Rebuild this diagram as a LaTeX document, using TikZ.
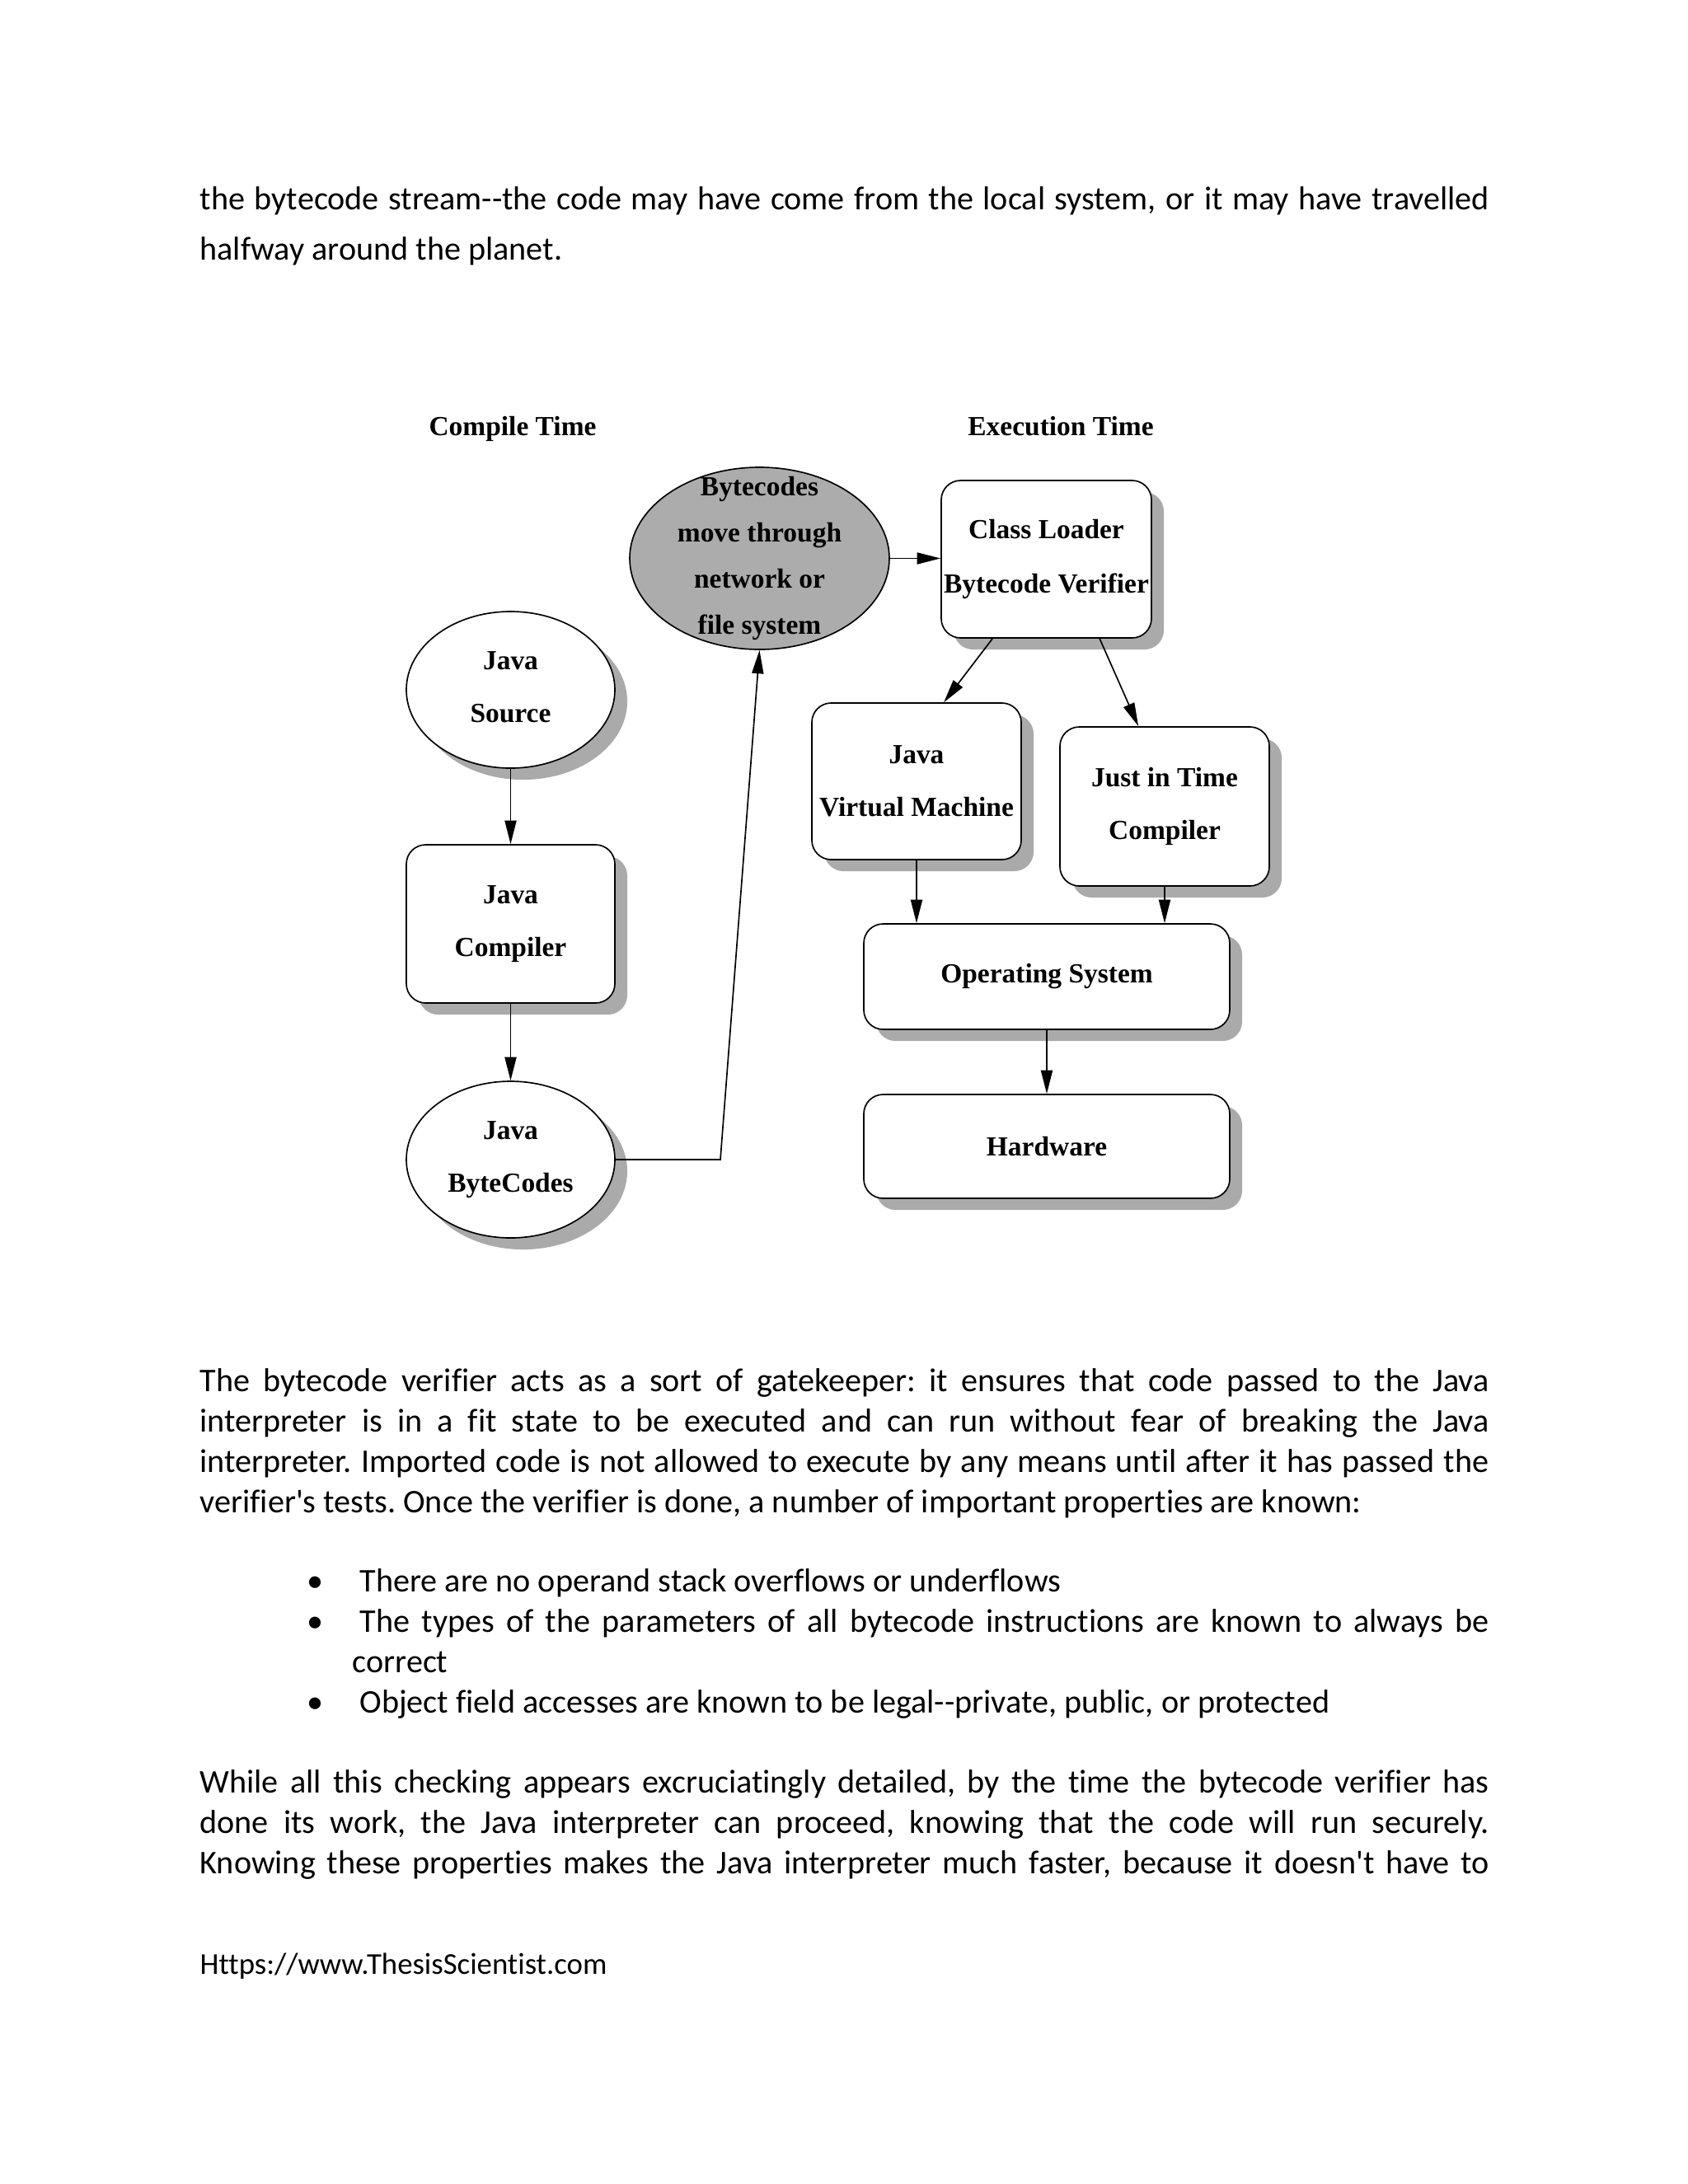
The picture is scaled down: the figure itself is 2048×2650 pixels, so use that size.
\documentclass[tikz,border=0pt]{standalone}
\usepackage{fontspec}
\newfontfamily\bodyfont{Carlito}[Ligatures={TeXOff,CommonOff}]
\newfontfamily\diagfont{Liberation Serif}
\usetikzlibrary{arrows.meta,shapes.geometric,shadows,calc}
\def\pxu{0.298828pt}
\newlength\fullw \setlength\fullw{467.37pt}
\newlength\bulw \setlength\bulw{409.39pt}
\definecolor{shadowgray}{RGB}{170,170,170}
\definecolor{bubblegray}{RGB}{172,172,172}
\tikzset{
  dtext/.style={font=\diagfont\bfseries\fontsize{10}{19}\selectfont, align=center, inner sep=0pt},
  htext/.style={font=\diagfont\bfseries\fontsize{10}{12}\selectfont, inner sep=0pt},
  dshadow/.style={drop shadow={shadow xshift=4.5pt, shadow yshift=-4.2pt, fill=shadowgray, opacity=1}},
  procbox/.style={draw, line width=0.5pt, rounded corners=7pt, fill=white, dshadow, dtext},
  ovalnode/.style={ellipse, draw, line width=0.5pt, fill=white, dshadow, inner sep=0pt},
  netnode/.style={ellipse, draw, line width=0.5pt, fill=bubblegray, inner sep=0pt},
  flow/.style={-{Triangle[length=8.5pt,width=4.2pt]}, line width=0.5pt},
  body/.style={font=\bodyfont\frenchspacing\fontsize{12}{14.6}\selectfont, inner sep=0pt, anchor=base west},
}
\begin{document}
\begin{tikzpicture}[x=\pxu, y=-\pxu]
\fill[white] (0,0) rectangle (2048,2650);
\useasboundingbox (0,0) rectangle (2048,2650);

% top paragraph
\node[body] (t1) at (242,254) {\makebox[\fullw][s]{the bytecode stream--the code may have come from the local system, or it may have travelled}};
\node[body] (t2) at (242,315) {halfway around the planet.};

% headings
\node[htext, anchor=base] (ct) at (622,528) {Compile Time};
\node[htext, anchor=base] (et) at (1287,528) {Execution Time};

% compile-time column
\node[ovalnode, minimum width=253*\pxu, minimum height=190*\pxu] (src) at (619.5,837) {};
\node[dtext] (srct) at ([yshift=1pt]src.center) {Java\\Source};
\node[procbox, minimum width=253*\pxu, minimum height=192*\pxu] (comp) at (619.5,1121) {Java\\Compiler};
\node[ovalnode, minimum width=253*\pxu, minimum height=190*\pxu] (bc) at (619.5,1407) {};
\node[dtext] (bct) at (bc.center) {Java\\ByteCodes};

% network bubble
\node[netnode, minimum width=315*\pxu, minimum height=221*\pxu] (net) at (921.5,677.5) {};
\node[dtext, font=\diagfont\bfseries\fontsize{10}{16.7}\selectfont] (nett) at (net.center) {Bytecodes\\move through\\network or\\file system};

% execution-time column
\node[procbox, minimum width=255*\pxu, minimum height=191*\pxu] (cl) at (1269.5,678.5) {Class Loader\\[0.6pt]Bytecode Verifier};
\node[procbox, minimum width=254*\pxu, minimum height=190*\pxu] (jvm) at (1112,948) {Java\\Virtual Machine};
\node[procbox, minimum width=254*\pxu, minimum height=193*\pxu] (jit) at (1413,978.5) {Just in Time\\Compiler};
\node[procbox, minimum width=444*\pxu, minimum height=128*\pxu] (os) at (1270,1185) {Operating System};
\node[procbox, minimum width=444*\pxu, minimum height=126*\pxu] (hw) at (1270,1391) {Hardware};

% connectors
\draw[flow] (src.south) -- (comp.north);
\draw[flow] (comp.south) -- (bc.north);
\coordinate (bend) at (874,1407);
\draw[flow] (bc.east) -- (bend) -- (net.south);
\draw[flow] (net.east) -- (net.east -| cl.west);
\draw[flow] ($(cl.south west)+(63,0)$) -- ($(jvm.north west)+(161,0)$);
\draw[flow] ($(cl.south west)+(193,0)$) -- ($(jit.north west)+(96,0)$);
\draw[flow] (jvm.south) -- (jvm.south |- os.north);
\draw[flow] (jit.south) -- (jit.south |- os.north);
\draw[flow] (os.south) -- (hw.north);

% lower paragraph
\node[body] (p1) at (242,1688) {\makebox[\fullw][s]{The bytecode verifier acts as a sort of gatekeeper: it ensures that code passed to the Java}};
\node[body] (p2) at (242,1737) {\makebox[\fullw][s]{interpreter is in a fit state to be executed and can run without fear of breaking the Java}};
\node[body] (p3) at (242,1786) {\makebox[\fullw][s]{interpreter. Imported code is not allowed to execute by any means until after it has passed the}};
\node[body] (p4) at (242,1835) {verifier's tests. Once the verifier is done, a number of important properties are known:};

% bullets
\node[body] (b1d) at (372,1931) {•};
\node[body] (b1) at (436,1931) {There are no operand stack overflows or underflows};
\node[body] (b2d) at (372,1980) {•};
\node[body] (b2) at (436,1980) {\makebox[\bulw][s]{The types of the parameters of all bytecode instructions are known to always be}};
\node[body] (b2b) at (427,2029) {correct};
\node[body] (b3d) at (372,2078) {•};
\node[body] (b3) at (436,2078) {Object field accesses are known to be legal--private, public, or protected};

% last paragraph
\node[body] (q1) at (242,2175) {\makebox[\fullw][s]{While all this checking appears excruciatingly detailed, by the time the bytecode verifier has}};
\node[body] (q2) at (242,2224) {\makebox[\fullw][s]{done its work, the Java interpreter can proceed, knowing that the code will run securely.}};
\node[body] (q3) at (242,2273) {\makebox[\fullw][s]{Knowing these properties makes the Java interpreter much faster, because it doesn't have to}};

% footer
\node[body, font=\bodyfont\fontsize{11}{13.4}\selectfont] (foot) at (242,2395) {Https://www.ThesisScientist.com};
\end{tikzpicture}
\end{document}
